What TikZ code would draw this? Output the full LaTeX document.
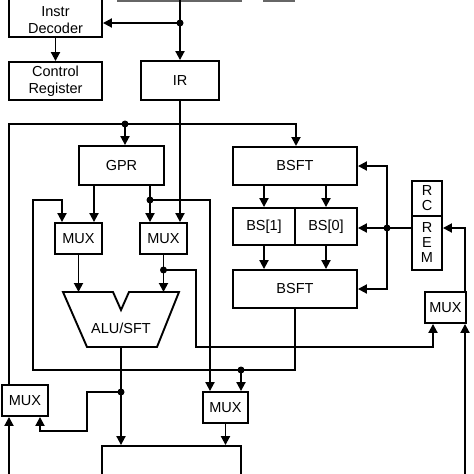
\documentclass[tikz,border=0pt]{standalone}
\usepackage{fontspec}
\setmainfont{Liberation Sans}
\usetikzlibrary{arrows.meta}
\begin{document}
\begin{tikzpicture}[x=1pt,y=-1pt,
  box/.style={draw, line width=1.9pt, inner sep=0pt, align=center, font=\fontsize{14.5}{17.5}\selectfont},
  txt/.style={inner sep=0pt, align=center, font=\fontsize{14.5}{17.5}\selectfont},
  wire/.style={line width=1.9pt},
  arr/.style={line width=1.9pt, -{Triangle[length=9pt,width=9pt]}},
  dot/.style={circle, fill, inner sep=0pt, minimum size=7pt}]
\useasboundingbox (0,0) rectangle (474,474);
\fill[white] (0,0) rectangle (474,474);
\clip (0,0) rectangle (474,474);
% top remnants
\fill[gray!80!black] (117,-1) rectangle (242,2);
\fill[gray!80!black] (263,-1) rectangle (295,2);
% boxes
\node[box, minimum width=93pt, minimum height=42pt] (dec) at (55.5,16) {};
\node[txt] (dectxt) at (55.5,20) {Instr\\Decoder};
\node[box, minimum width=93pt, minimum height=38pt] (ctrl) at (55.5,81) {Control\\Register};
\node[box, minimum width=78pt, minimum height=39pt] (ir) at (180,80.5) {IR};
\node[box, minimum width=85pt, minimum height=39pt] (gpr) at (121.5,165.5) {GPR};
\node[box, minimum width=124pt, minimum height=38pt] (bsft1) at (295,166) {BSFT};
\node[box, minimum width=62pt, minimum height=37pt] (bs1) at (264,226.5) {BS[1]};
\node[box, minimum width=62pt, minimum height=37pt] (bs0) at (326,226.5) {BS[0]};
\node[box, minimum width=124pt, minimum height=38pt] (bsft2) at (295,289) {BSFT};
\node[box, minimum width=47pt, minimum height=31pt] (muxL) at (78.5,238.5) {MUX};
\node[box, minimum width=47pt, minimum height=31pt] (muxR) at (163.5,238.5) {MUX};
\node[box, minimum width=46pt, minimum height=31pt] (muxBL) at (25,400.5) {MUX};
\node[box, minimum width=45pt, minimum height=31pt] (muxB) at (225.5,407.5) {MUX};
\node[box, minimum width=41pt, minimum height=31pt] (muxRR) at (445.5,307.5) {MUX};
\node[box, minimum width=30pt, minimum height=35pt, font=\fontsize{14.5}{15}\selectfont] (rc) at (427,198.5) {R\\C};
\node[box, minimum width=30pt, minimum height=54pt, font=\fontsize{14.5}{15}\selectfont] (rem) at (427,243) {R\\E\\M};
\node[box, minimum width=139pt, minimum height=40pt] (big) at (171.5,466) {};
% ALU
\draw[line width=1.9pt, line join=miter] (63,292) -- (113,292) -- (121,310) -- (129,292) -- (179,292) -- (157,347) -- (87,347) -- cycle;
\node[txt] (alu) at (121,328) {ALU/SFT};
\coordinate (alutop) at (121,292);
\coordinate (alubot) at (121,347);
% dots
\node[dot] (d1) at (180,23) {};
\node[dot] (d2) at (125,124) {};
\node[dot] (d3) at (150,200) {};
\node[dot] (d4) at (241,370) {};
\node[dot] (d5) at (163.5,270) {};
\node[dot] (d6) at (121,392) {};
\node[dot] (d7) at (387,228) {};
% top
\coordinate (topin) at (180,-2);
\draw[arr] (topin) -- (ir.north);
\draw[arr] (d1.center) -- (d1.center -| dec.east);
\draw[arr] (dec.south) -- (ctrl.north);
\draw[arr] (ir.south) -- (ir.south |- muxR.north);
% big loop
\coordinate (lb) at (9,124);
\draw[arr] (lb |- muxBL.north) -- (lb) -- (296,124) -- (296,146);
\draw[arr] (d2.center) -- (d2.center |- gpr.north);
\coordinate (inBL) at (9,476);
\draw[arr] (inBL) -- (inBL |- muxBL.south);
% GPR outputs
\draw[arr] ([xshift=-27.5pt]gpr.south) coordinate (g1) -- (g1 |- muxL.north);
\draw[arr] ([xshift=28.5pt]gpr.south) coordinate (g2) -- (g2 |- muxR.north);
\draw[arr] (d3.center) -| ([xshift=-15.5pt]muxB.north);
% left loop
\draw[arr] (bsft2.south) |- (d4.center) -- (33,370) -- (33,200) -- (62,200) -- ([xshift=-16.5pt]muxL.north);
\draw[arr] (d4.center) -- (d4.center |- muxB.north);
% MUX -> ALU
\draw[arr] (muxL.south) -- (muxL.south |- alutop);
\draw[arr] (muxR.south) -- (muxR.south |- alutop);
\draw[arr] (d5.center) -| (196,347) -| ([xshift=-12.5pt]muxRR.south);
% ALU out
\draw[arr] (alubot) -- (alubot |- big.north);
\draw[arr] (d6.center) -- (87,392) -- (87,431) -- (40,431) -- ([xshift=15pt]muxBL.south);
\draw[arr] (muxB.south) -- (muxB.south |- big.north);
% BSFT chain
\draw[arr] (bs1.north |- bsft1.south) -- (bs1.north);
\draw[arr] (bs0.north |- bsft1.south) -- (bs0.north);
\draw[arr] (bs1.south) -- (bs1.south |- bsft2.north);
\draw[arr] (bs0.south) -- (bs0.south |- bsft2.north);
% REM feedback
\draw[wire] (d7.center -| rem.west) -- (d7.center);
\draw[arr] (d7.center) -- (d7.center -| bs0.east);
\draw[arr] (d7.center) |- (bsft1.east);
\draw[arr] (d7.center) |- (bsft2.east);
\draw[arr] ([xshift=19.5pt]muxRR.north) |- (d7.center -| rem.east);
\coordinate (inRR) at (465,476);
\draw[arr] (inRR) -- (inRR |- muxRR.south);
\end{tikzpicture}
\end{document}
